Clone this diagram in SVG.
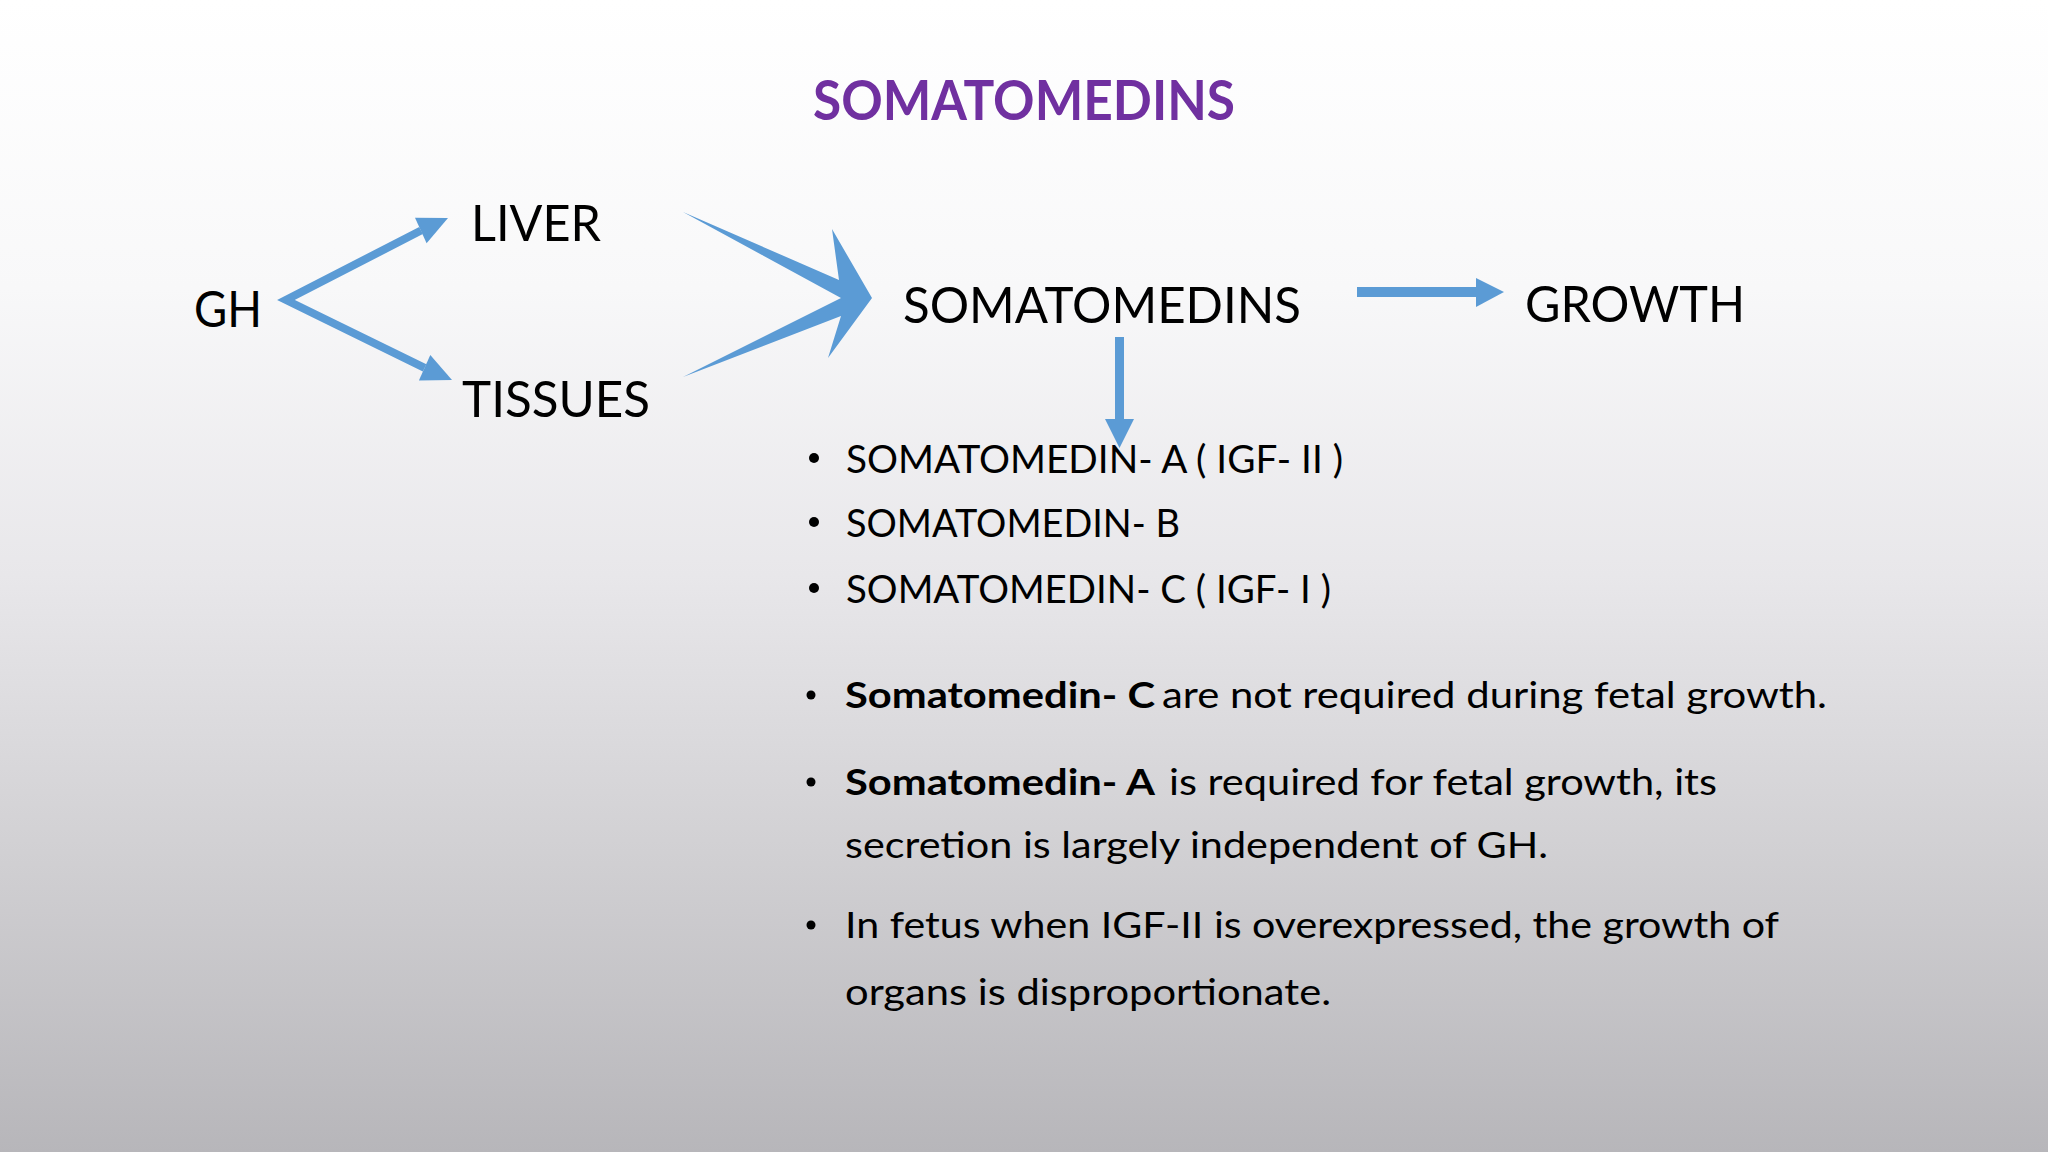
<svg xmlns="http://www.w3.org/2000/svg" width="2048" height="1152" viewBox="0 0 2048 1152">
  <defs>
    <linearGradient id="bg" x1="0" y1="0" x2="0" y2="1">
      <stop offset="0" stop-color="#ffffff"/>
      <stop offset="0.25" stop-color="#f8f8f9"/>
      <stop offset="0.5" stop-color="#e8e7ea"/>
      <stop offset="0.75" stop-color="#d0cfd2"/>
      <stop offset="1" stop-color="#b7b6ba"/>
    </linearGradient>
    <style>
      .t { font-family: Lato, "Open Sans", "Liberation Sans", sans-serif; fill: #000000; }
      .big { font-size: 50px; }
      .list { font-size: 38px; }
      .body { font-size: 36px; }
      .b { font-weight: bold; }
      .title { font-family: Lato, "Open Sans", "Liberation Sans", sans-serif; font-size: 56px; font-weight: bold; fill: #7030A0; }
      .arrow { fill: #5B9BD5; }
      .shaft { stroke: #5B9BD5; fill: none; }
      .dot { fill: #000000; }
    </style>
  </defs>

  <rect x="0" y="0" width="2048" height="1152" fill="url(#bg)"/>

  <g id="title">
    <text class="title" x="813" y="120" textLength="422" lengthAdjust="spacingAndGlyphs">SOMATOMEDINS</text>
  </g>

  <g id="node-gh">
    <text class="t big" x="194" y="327" textLength="68" lengthAdjust="spacingAndGlyphs">GH</text>
  </g>
  <g id="node-liver">
    <text class="t big" x="471" y="241" textLength="130" lengthAdjust="spacingAndGlyphs">LIVER</text>
  </g>
  <g id="node-tissues">
    <text class="t big" x="462" y="417" textLength="188" lengthAdjust="spacingAndGlyphs">TISSUES</text>
  </g>
  <g id="node-somatomedins">
    <text class="t big" x="903" y="323" textLength="398" lengthAdjust="spacingAndGlyphs">SOMATOMEDINS</text>
  </g>
  <g id="node-growth">
    <text class="t big" x="1525" y="322" textLength="220" lengthAdjust="spacingAndGlyphs">GROWTH</text>
  </g>

  <g id="node-types">
    <circle class="dot" cx="814" cy="458" r="5"/>
    <text class="t list" x="846" y="473" textLength="497" lengthAdjust="spacingAndGlyphs">SOMATOMEDIN- A ( IGF- II )</text>
    <circle class="dot" cx="814" cy="522" r="5"/>
    <text class="t list" x="846" y="537" textLength="334" lengthAdjust="spacingAndGlyphs">SOMATOMEDIN- B</text>
    <circle class="dot" cx="814" cy="588" r="5"/>
    <text class="t list" x="846" y="603" textLength="485" lengthAdjust="spacingAndGlyphs">SOMATOMEDIN- C ( IGF- I )</text>
  </g>

  <g id="notes">
    <circle class="dot" cx="811" cy="695" r="4.5"/>
    <text class="t body b" x="845" y="708" textLength="310" lengthAdjust="spacingAndGlyphs">Somatomedin- C</text>
    <text class="t body" x="1162" y="708" textLength="665" lengthAdjust="spacingAndGlyphs">are not required during fetal growth.</text>

    <circle class="dot" cx="811" cy="782" r="4.5"/>
    <text class="t body b" x="845" y="795" textLength="310" lengthAdjust="spacingAndGlyphs">Somatomedin- A</text>
    <text class="t body" x="1169" y="795" textLength="548" lengthAdjust="spacingAndGlyphs">is required for fetal growth, its</text>
    <text class="t body" x="845" y="858" textLength="703" lengthAdjust="spacingAndGlyphs">secretion is largely independent of GH.</text>

    <circle class="dot" cx="811" cy="925" r="4.5"/>
    <text class="t body" x="845" y="938" textLength="934" lengthAdjust="spacingAndGlyphs">In fetus when IGF-II is overexpressed, the growth of</text>
    <text class="t body" x="845" y="1005" textLength="486" lengthAdjust="spacingAndGlyphs">organs is disproportionate.</text>
  </g>

  <g id="connectors">
    <!-- GH to LIVER / TISSUES -->
    <polyline class="shaft" stroke-width="8" stroke-linejoin="miter" stroke-miterlimit="4" points="421,230.5 286,300 424.6,367.8"/>
    <polygon class="arrow" points="448,218 415,217.8 426.6,243.2"/>
    <polygon class="arrow" points="452,380 418.9,380.6 430.3,355"/>
    <!-- LIVER / TISSUES to SOMATOMEDINS (chevron) -->
    <polygon class="arrow" points="683,212 839,280 832,229 872,298 828,358 841,316 683,377 841,298"/>
    <!-- SOMATOMEDINS to GROWTH -->
    <rect class="arrow" x="1357" y="287" width="120" height="10"/>
    <polygon class="arrow" points="1476,278 1504,292 1476,307"/>
    <!-- SOMATOMEDINS to list -->
    <rect class="arrow" x="1115" y="337" width="9" height="83"/>
    <polygon class="arrow" points="1105,419 1134,419 1119.5,448"/>
  </g>
</svg>
